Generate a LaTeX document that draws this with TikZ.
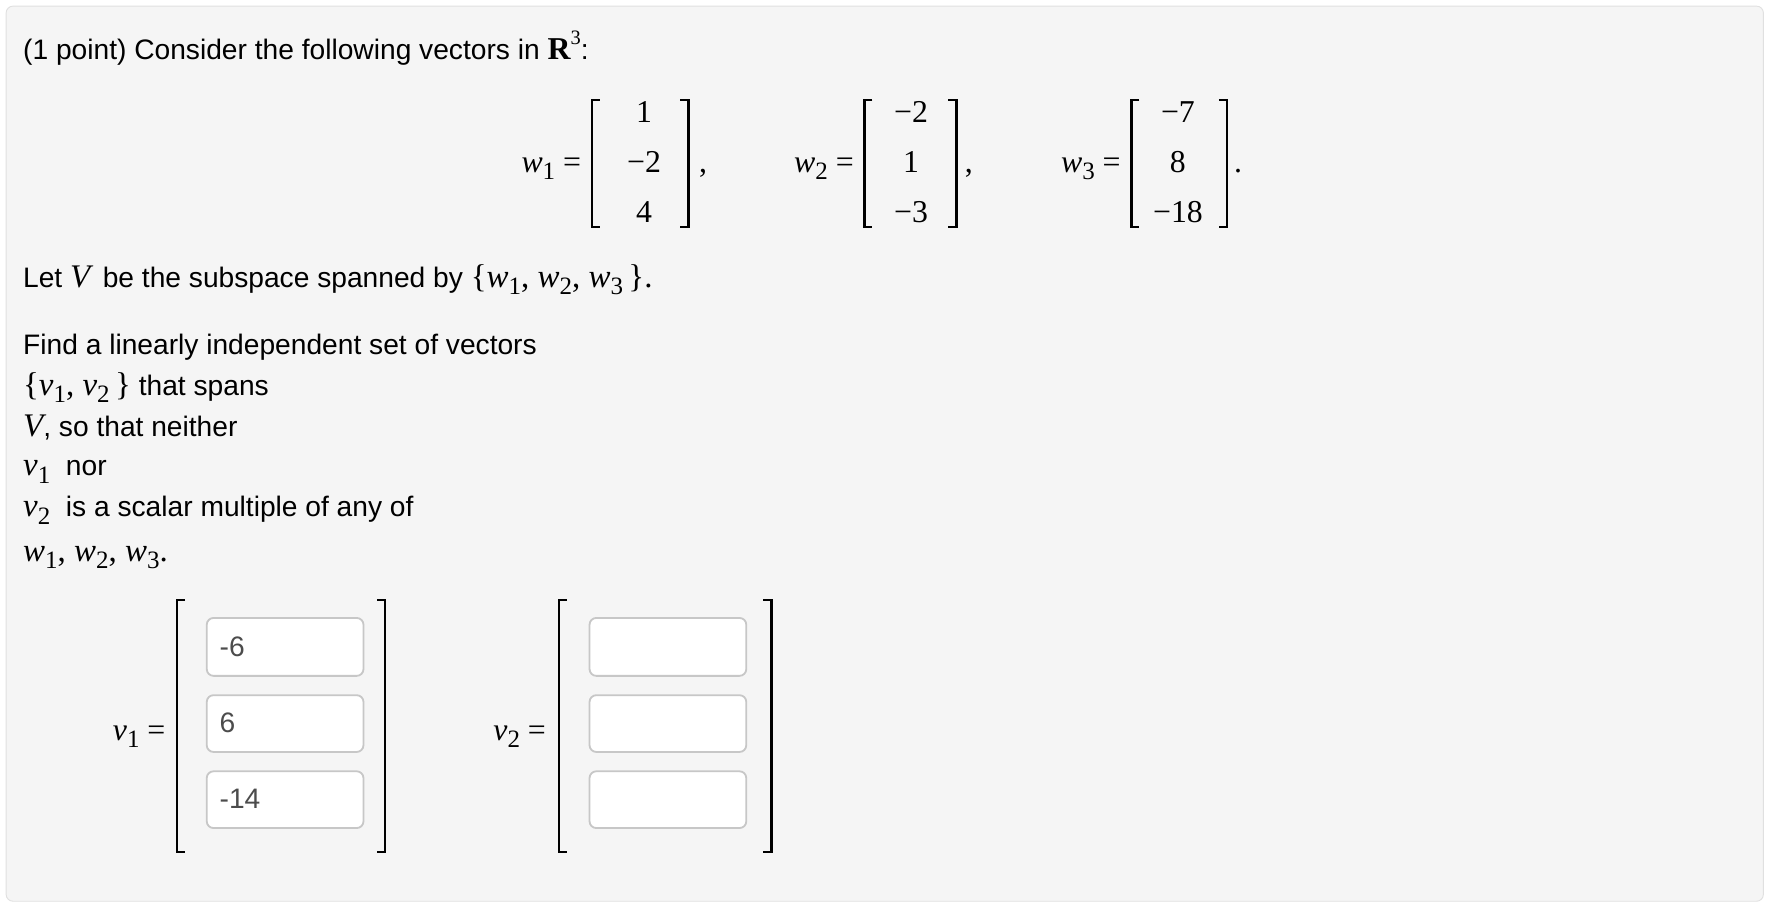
\documentclass[tikz,border=0pt]{standalone}
\usepackage{fontspec}
\setmainfont{Liberation Sans}
\newfontfamily\mf{Liberation Serif}
\newcommand{\mi}[1]{{\mf\itshape #1}}
\begin{document}
\begin{tikzpicture}[x=0.5pt,y=-0.5pt,
  txt/.style={anchor=base west,inner sep=0pt,font=\fontsize{12.4}{14}\selectfont},
  mtx/.style={anchor=base,inner sep=0pt,font=\mf\fontsize{14}{16}\selectfont},
  box/.style={draw=black!22,fill=white,rounded corners=3pt,line width=0.8pt},
  brk/.style={line width=1.1pt}]
\useasboundingbox (0,0) rectangle (1560,803);
\fill[white] (0,0) rectangle (1560,803);
\node[draw=black!12,fill=black!4,rounded corners=3pt,minimum width=1547*0.5pt,minimum height=788*0.5pt,anchor=north west,inner sep=0pt] (panel) at (5,5) {};
\node[txt] (title) at (20,52) {(1 point) Consider the following vectors in {\mf\bfseries\fontsize{14}{16}\selectfont R}\raisebox{0.5em}{\mf\small 3}:};
\newcommand{\wl}[1]{\mi{w}\raisebox{-0.22em}{\mf\fontsize{11}{12}\selectfont #1}}
\newcommand{\vl}[1]{\mi{v}\raisebox{-0.22em}{\mf\fontsize{11}{12}\selectfont #1}}
% w1
\node[mtx,anchor=base east] (w1l) at (512,152) {\wl{1} =};
\draw[brk] (528,88)--(521,88)--(521,200)--(528,200);
\draw[brk] (599,88)--(606,88)--(606,200)--(599,200);
\node[mtx] (a1) at (567,108) {1};
\node[mtx] (a2) at (567,152) {\textminus2};
\node[mtx] (a3) at (567,196) {4};
\node[mtx] (c1) at (619,152) {,};
% w2
\node[mtx,anchor=base east] (w2l) at (752,152) {\wl{2} =};
\draw[brk] (768,88)--(761,88)--(761,200)--(768,200);
\draw[brk] (835,88)--(842,88)--(842,200)--(835,200);
\node[mtx] (b1) at (802,108) {\textminus2};
\node[mtx] (b2) at (802,152) {1};
\node[mtx] (b3) at (802,196) {\textminus3};
\node[mtx] (c2) at (853,152) {,};
% w3
\node[mtx,anchor=base east] (w3l) at (987,152) {\wl{3} =};
\draw[brk] (1003,88)--(996,88)--(996,200)--(1003,200);
\draw[brk] (1073,88)--(1080,88)--(1080,200)--(1073,200);
\node[mtx] (d1) at (1037,108) {\textminus7};
\node[mtx] (d2) at (1037,152) {8};
\node[mtx] (d3) at (1037,196) {\textminus18};
\node[mtx] (c3) at (1090,152) {.};
% text
\newcommand{\mt}{\mf\fontsize{14.5}{16}\selectfont}
\node[txt] (t1) at (20,253) {Let {\mt\itshape V} \,be the subspace spanned by {\mt \{\wl{1}, \wl{2}, \wl{3}\,\}.}};
\node[txt] (t2) at (20,312) {Find a linearly independent set of vectors};
\node[txt] (t3) at (20,348) {{\mt\{\vl{1}, \vl{2}\,\}} that spans};
\node[txt] (t4) at (20,384) {{\mt\itshape V}, so that neither};
\node[txt] (t5) at (20,419) {{\mt\vl{1}} \ nor};
\node[txt] (t6) at (20,455) {{\mt\vl{2}} \ is a scalar multiple of any of};
\node[txt] (t7) at (20,494) {{\mt\wl{1}, \wl{2}, \wl{3}.}};
% v1
\node[mtx,anchor=base east] (v1l) at (146,652) {\vl{1} =};
\draw[brk] (163,528)--(156,528)--(156,750)--(163,750);
\draw[brk] (332,528)--(339,528)--(339,750)--(332,750);
\draw[box] (182,544) rectangle (320,595);
\draw[box] (182,612) rectangle (320,662);
\draw[box] (182,679) rectangle (320,729);
\node[txt,text=black!70] (e1) at (193,578) {-6};
\node[txt,text=black!70] (e2) at (193,645) {6};
\node[txt,text=black!70] (e3) at (193,712) {-14};
% v2
\node[mtx,anchor=base east] (v2l) at (481,652) {\vl{2} =};
\draw[brk] (499,528)--(492,528)--(492,750)--(499,750);
\draw[brk] (672,528)--(679,528)--(679,750)--(672,750);
\draw[box] (519,544) rectangle (657,595);
\draw[box] (519,612) rectangle (657,662);
\draw[box] (519,679) rectangle (657,729);
\end{tikzpicture}
\end{document}
